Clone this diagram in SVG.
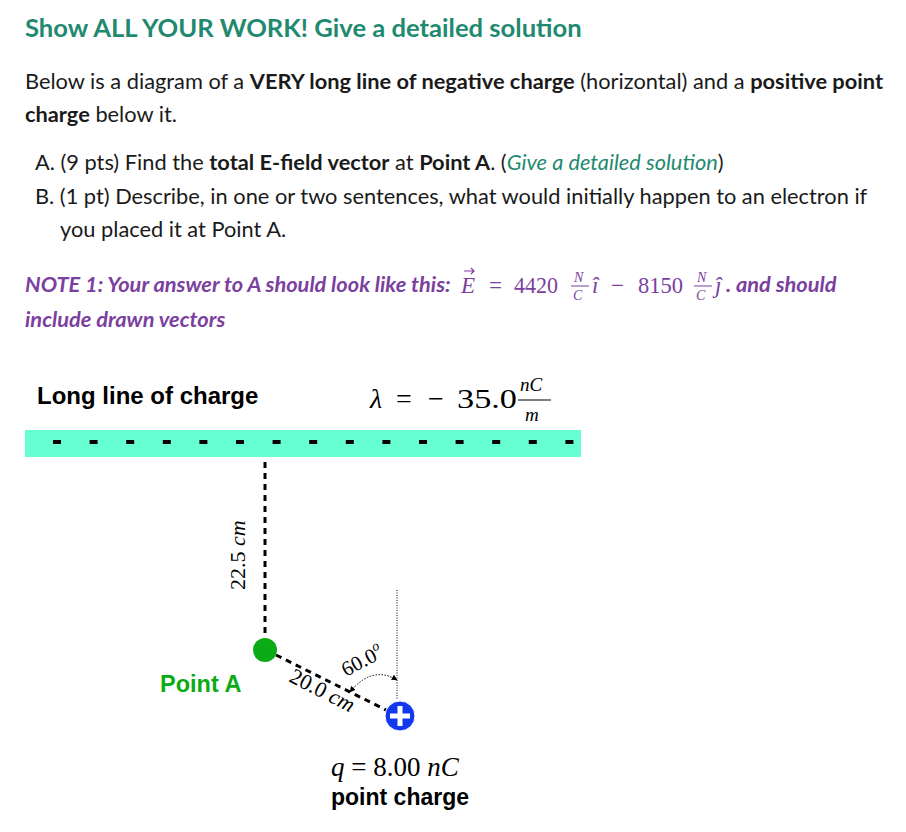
<svg xmlns="http://www.w3.org/2000/svg" width="906" height="832" viewBox="0 0 906 832">
<style>
.h{font-family:Lato,"Liberation Sans",sans-serif;fill:#1a1a1a;font-size:21.8px}
.b{font-weight:bold}
.t{font-family:"Liberation Serif",serif;fill:#000}
.a{font-family:"Liberation Sans",Arial,sans-serif;font-weight:bold;fill:#000}
.n{font-family:Lato,"Liberation Sans",sans-serif;font-style:italic;font-weight:bold;fill:#7b3fa0;font-size:21.8px}
.m{font-family:"Liberation Serif",serif;fill:#7b3fa0}
</style>
<defs>
<marker id="ar" viewBox="0 0 10 10" refX="9" refY="5" markerWidth="6" markerHeight="6" orient="auto-start-reverse"><path d="M0,0L10,5L0,10z" fill="#000"/></marker>
</defs>
<rect width="906" height="832" fill="#fff"/>
<text x="25" y="37" font-family="Lato,'Liberation Sans',sans-serif" font-size="25.6" font-weight="bold" fill="#1f8a70">Show ALL YOUR WORK! Give a detailed solution</text>
<text class="h" x="25" y="89">Below is a diagram of a <tspan class="b">VERY long line of negative charge</tspan> (horizontal) and a <tspan class="b">positive point</tspan></text>
<text class="h" x="25" y="122"><tspan class="b">charge</tspan> below it.</text>
<text class="h" x="35" y="170">A. (9 pts) Find the <tspan class="b">total E-field vector</tspan> at <tspan class="b">Point A</tspan>. (<tspan fill="#1f8a70" font-style="italic">Give a detailed solution</tspan>)</text>
<text class="h" x="35" y="204">B. (1 pt) Describe, in one or two sentences,  what would initially happen to an electron if</text>
<text class="h" x="60" y="237">you placed it at Point A.</text>
<text class="n" x="25" y="292">NOTE 1: Your answer to A should look like this: </text>
<text class="m" x="461" y="293" font-size="23" font-style="italic">E</text>
<path d="M464,271h10m-3,-3l3,3l-3,3" stroke="#7b3fa0" fill="none" stroke-width="1.2"/>
<text class="m" x="489" y="293" font-size="23">=</text>
<text class="m" x="514" y="293" font-size="23" textLength="44" lengthAdjust="spacingAndGlyphs">4420</text>
<text class="m" x="574" y="282" font-size="14" font-style="italic">N</text>
<line x1="571" y1="286" x2="589" y2="286" stroke="#7b3fa0"/>
<text class="m" x="573" y="300" font-size="14" font-style="italic">C</text>
<text class="m" x="592" y="293" font-size="23" font-style="italic">î</text>
<text class="m" x="611" y="293" font-size="23">−</text>
<text class="m" x="638" y="293" font-size="23" textLength="45" lengthAdjust="spacingAndGlyphs">8150</text>
<text class="m" x="697" y="282" font-size="14" font-style="italic">N</text>
<line x1="694" y1="286" x2="712" y2="286" stroke="#7b3fa0"/>
<text class="m" x="696" y="300" font-size="14" font-style="italic">C</text>
<text class="m" x="715" y="293" font-size="23" font-style="italic">ĵ</text>
<text class="n" x="726" y="292">. and should</text>
<text class="n" x="25" y="327">include drawn vectors</text>

<g id="line">
<rect x="25" y="430" width="556" height="27" fill="#66ffd1"/>
<path d="M53,442H581" stroke="#000" stroke-width="4" stroke-dasharray="8 28.6"/>
</g>
<text class="a" x="37" y="404" font-size="24">Long line of charge</text>
<text class="t" x="370" y="408" font-size="28" font-style="italic">λ</text>
<text class="t" x="396" y="408" font-size="28">=</text>
<text class="t" x="428" y="408" font-size="28">−</text>
<text class="t" x="457" y="408" font-size="28" textLength="60" lengthAdjust="spacingAndGlyphs">35.0</text>
<text class="t" x="520" y="391" font-size="19" font-style="italic">nC</text>
<line x1="518" y1="400" x2="551" y2="400" stroke="#000" stroke-width="1.2"/>
<text class="t" x="525" y="421" font-size="19" font-style="italic">m</text>

<g id="connectors">
<line x1="265" y1="462" x2="265" y2="638" stroke="#000" stroke-width="3" stroke-dasharray="6 5"/>
<line x1="276" y1="655" x2="388" y2="711" stroke="#000" stroke-width="3" stroke-dasharray="6 5"/>
<line x1="397" y1="590" x2="397" y2="700" stroke="#000" stroke-width="1" stroke-dasharray="1 1.5"/>
<path d="M397,680 Q372,665 350,692" fill="none" stroke="#000" stroke-width="1" stroke-dasharray="1.5 1.5" marker-start="url(#ar)" marker-end="url(#ar)"/>
</g>
<text class="t" transform="translate(245,590) rotate(-90)" font-size="22" font-style="italic"><tspan font-style="normal">22.5</tspan> cm</text>
<text class="t" transform="translate(288,681) rotate(27)" font-size="22" font-style="italic"><tspan font-style="normal">20.0</tspan> cm</text>
<text class="t" transform="translate(346,677) rotate(-28)" font-size="21">60.0<tspan font-style="italic" font-size="14" dy="-9">o</tspan></text>

<g id="pointA">
<circle cx="265" cy="650" r="12" fill="#0aab14"/>
<text x="160" y="692" font-family="'Liberation Sans',Arial,sans-serif" font-weight="bold" font-size="23.5" fill="#0aab14">Point A</text>
</g>
<g id="charge">
<circle cx="400" cy="716" r="15" fill="#1338f0" stroke="#fff" stroke-width="1"/>
<path d="M400,706V726M390,716H410" stroke="#fff" stroke-width="5"/>
<text class="t" x="331" y="776" font-size="27"><tspan font-style="italic">q</tspan> = 8.00 <tspan font-style="italic">nC</tspan></text>
<text class="a" x="331" y="805" font-size="23">point charge</text>
</g>
</svg>
